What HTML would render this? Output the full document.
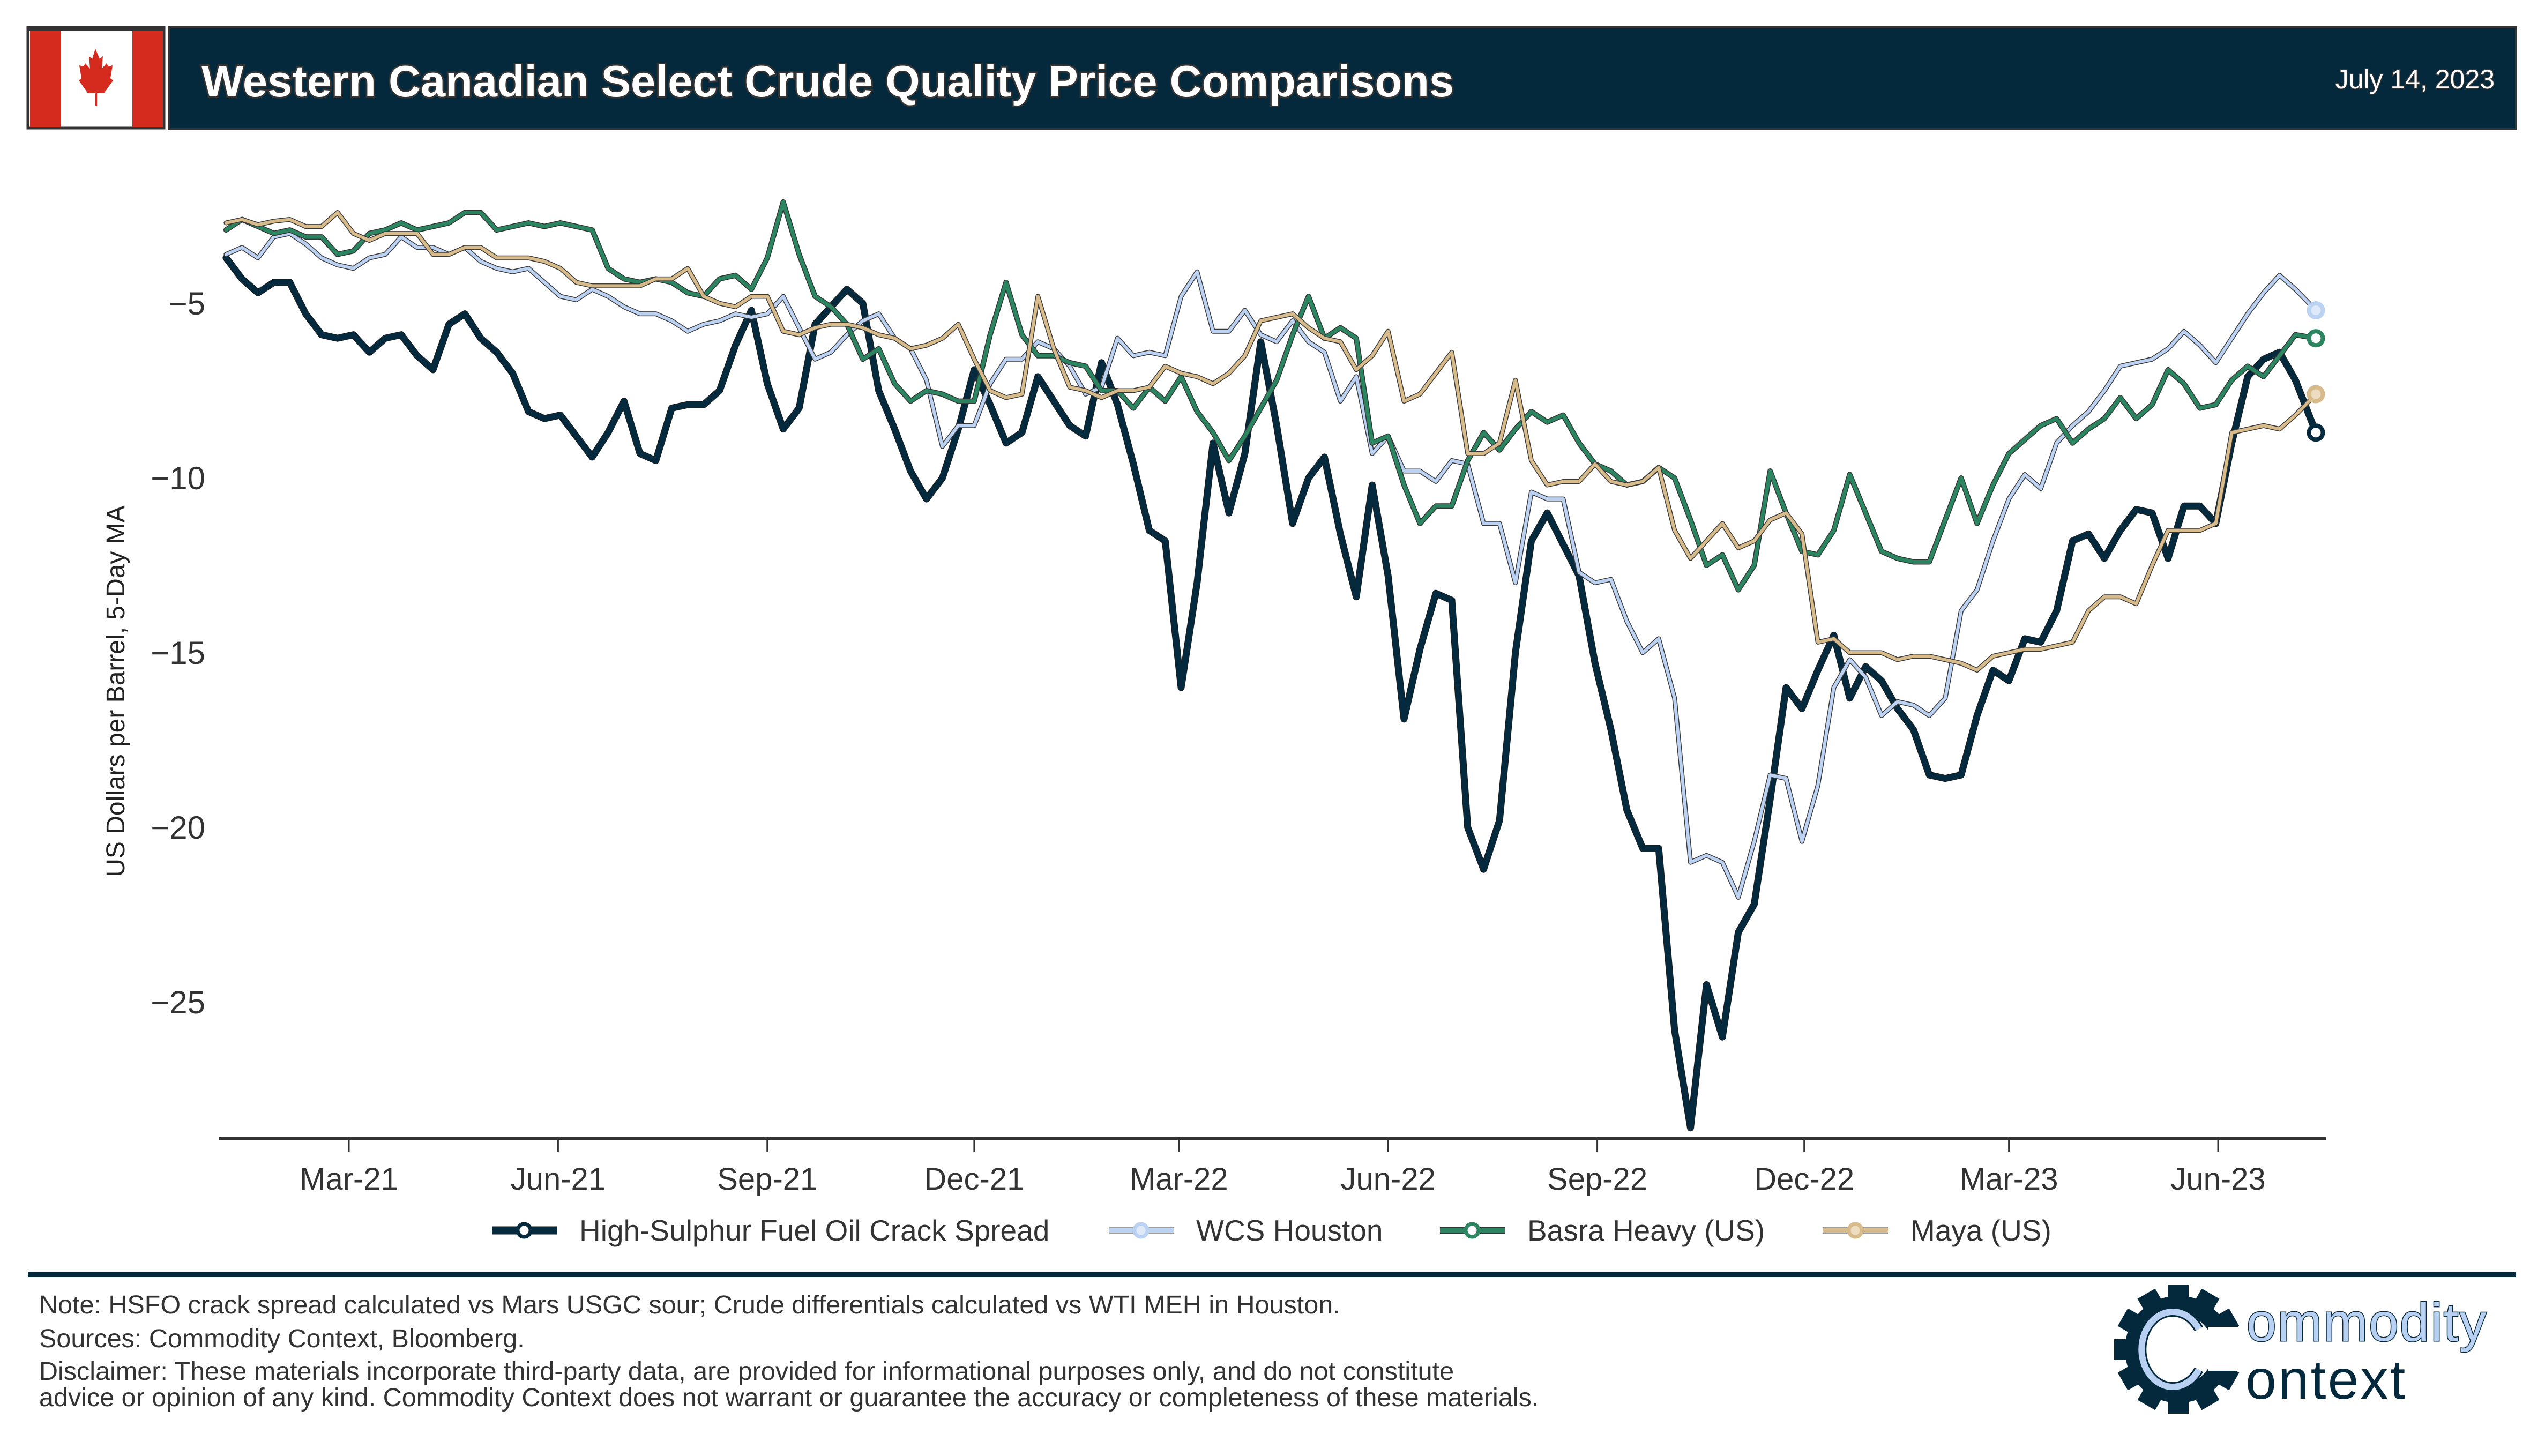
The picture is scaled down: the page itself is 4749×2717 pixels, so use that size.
<!DOCTYPE html>
<html><head><meta charset="utf-8">
<style>
html,body{margin:0;padding:0;background:#fff;}
body{width:4749px;height:2712px;overflow:hidden;font-family:"Liberation Sans",Arial,sans-serif;}
svg text{font-family:"Liberation Sans",Arial,sans-serif;}
</style></head>
<body>
<svg id="chart" width="4749" height="2712" viewBox="0 0 4749 2712" xmlns="http://www.w3.org/2000/svg">
  <!-- Header -->
  <g>
    <rect x="52" y="51" width="254" height="188" fill="#fff" stroke="#333" stroke-width="5"/>
    <rect x="52" y="49" width="254" height="8" fill="#333"/>
    <rect x="56" y="57" width="58" height="180" fill="#d52b1e"/>
    <rect x="247" y="57" width="57" height="180" fill="#d52b1e"/>
    <path fill="#d52b1e" d="M178,91 L186,110 L192,105 L190,128 L199,118 L202,124 L210,122 L206,146 L211,150 L194,174 L181,173 L181,198 L177,198 L177,173 L164,174 L147,150 L152,146 L148,122 L156,124 L159,118 L168,128 L166,105 L172,110 Z"/>
  </g>
  <rect x="316" y="51" width="4379" height="190" fill="#04293d" stroke="#333" stroke-width="4"/>
  <text x="376" y="180" font-size="83" font-weight="bold" fill="#fff" stroke="#333" stroke-width="6" paint-order="stroke">Western Canadian Select Crude Quality Price Comparisons</text>
  <text x="4655" y="165" font-size="50" fill="#fff" text-anchor="end" stroke="#333" stroke-width="3" paint-order="stroke">July 14, 2023</text>

  <!-- Axes -->
  <g id="yaxis"></g>
  <g id="xaxis"></g>
  <text transform="translate(232,1290) rotate(-90)" font-size="48" fill="#222" text-anchor="middle">US Dollars per Barrel, 5-Day MA</text>
  <g id="series"></g>

  <!-- Legend -->
  <g id="legend"></g>

  <!-- Footer -->
  <rect x="52" y="2373" width="4643" height="10" fill="#04293d"/>
  <g font-size="48.5" fill="#333">
    <text x="73" y="2451">Note: HSFO crack spread calculated vs Mars USGC sour; Crude differentials calculated vs WTI MEH in Houston.</text>
    <text x="73" y="2514">Sources: Commodity Context, Bloomberg.</text>
    <text x="73" y="2575">Disclaimer: These materials incorporate third-party data, are provided for informational purposes only, and do not constitute</text>
    <text x="73" y="2624">advice or opinion of any kind. Commodity Context does not warrant or guarantee the accuracy or completeness of these materials.</text>
  </g>
  <g>
    <g id="gear"></g>
    <text x="4192" y="2502" font-size="100" letter-spacing="2" fill="#b8d0f2" stroke="#04293d" stroke-width="3" paint-order="stroke">ommodity</text>
    <text x="4190" y="2610" font-size="104" letter-spacing="3" fill="#04293d">ontext</text>
  </g>
</svg>
<script>
const dates = ["2021-01-06","2021-01-13","2021-01-20","2021-01-27","2021-02-03","2021-02-10","2021-02-17","2021-02-24","2021-03-03","2021-03-10","2021-03-17","2021-03-24","2021-03-31","2021-04-07","2021-04-14","2021-04-21","2021-04-28","2021-05-05","2021-05-12","2021-05-19","2021-05-26","2021-06-02","2021-06-09","2021-06-16","2021-06-23","2021-06-30","2021-07-07","2021-07-14","2021-07-21","2021-07-28","2021-08-04","2021-08-11","2021-08-18","2021-08-25","2021-09-01","2021-09-08","2021-09-15","2021-09-22","2021-09-29","2021-10-06","2021-10-13","2021-10-20","2021-10-27","2021-11-03","2021-11-10","2021-11-17","2021-11-24","2021-12-01","2021-12-08","2021-12-15","2021-12-22","2021-12-29","2022-01-05","2022-01-12","2022-01-19","2022-01-26","2022-02-02","2022-02-09","2022-02-16","2022-02-23","2022-03-02","2022-03-09","2022-03-16","2022-03-23","2022-03-30","2022-04-06","2022-04-13","2022-04-20","2022-04-27","2022-05-04","2022-05-11","2022-05-18","2022-05-25","2022-06-01","2022-06-08","2022-06-15","2022-06-22","2022-06-29","2022-07-06","2022-07-13","2022-07-20","2022-07-27","2022-08-03","2022-08-10","2022-08-17","2022-08-24","2022-08-31","2022-09-07","2022-09-14","2022-09-21","2022-09-28","2022-10-05","2022-10-12","2022-10-19","2022-10-26","2022-11-02","2022-11-09","2022-11-16","2022-11-23","2022-11-30","2022-12-07","2022-12-14","2022-12-21","2022-12-28","2023-01-04","2023-01-11","2023-01-18","2023-01-25","2023-02-01","2023-02-08","2023-02-15","2023-02-22","2023-03-01","2023-03-08","2023-03-15","2023-03-22","2023-03-29","2023-04-05","2023-04-12","2023-04-19","2023-04-26","2023-05-03","2023-05-10","2023-05-17","2023-05-24","2023-05-31","2023-06-07","2023-06-14","2023-06-21","2023-06-28","2023-07-05","2023-07-14"];

const hsfo = [-3.7,-4.3,-4.7,-4.4,-4.4,-5.3,-5.9,-6.0,-5.9,-6.4,-6.0,-5.9,-6.5,-6.9,-5.6,-5.3,-6.0,-6.4,-7.0,-8.1,-8.3,-8.2,-8.8,-9.4,-8.7,-7.8,-9.3,-9.5,-8.0,-7.9,-7.9,-7.5,-6.2,-5.2,-7.3,-8.6,-8.0,-5.6,-5.1,-4.6,-5.0,-7.5,-8.6,-9.8,-10.6,-10.0,-8.6,-6.9,-7.9,-9.0,
-8.7,-7.1,-7.8,-8.5,-8.8,-6.7,-7.9,-9.6,-11.5,-11.8,-16.0,-13.0,-9.0,-11.0,-9.3,-6.1,-8.5,-11.3,-10.0,-9.4,-11.6,-13.4,-10.2,-12.8,-16.9,-14.9,-13.3,-13.5,-20.0,-21.2,-19.8,-15.0,-11.8,-11.0,-11.9,-12.8,-15.3,-17.2,-19.5,-20.6,-20.6,-25.8,-28.6,-24.5,-26.0,-23.0,-22.2,-19.2,-16.0,-16.6,
-15.5,-14.5,-16.3,-15.4,-15.8,-16.6,-17.2,-18.5,-18.6,-18.5,-16.8,-15.5,-15.8,-14.6,-14.7,-13.8,-11.8,-11.6,-12.3,-11.5,-10.9,-11.0,-12.3,-10.8,-10.8,-11.3,-9.0,-7.1,-6.6,-6.4,-7.2,-8.7];

const wcs = [-3.6,-3.4,-3.7,-3.1,-3.0,-3.3,-3.7,-3.9,-4.0,-3.7,-3.6,-3.1,-3.4,-3.4,-3.6,-3.4,-3.8,-4.0,-4.1,-4.0,-4.4,-4.8,-4.9,-4.6,-4.8,-5.1,-5.3,-5.3,-5.5,-5.8,-5.6,-5.5,-5.3,-5.4,-5.3,-4.8,-5.7,-6.6,-6.4,-5.9,-5.5,-5.3,-6.0,-6.3,-7.2,-9.1,-8.5,-8.5,
-7.3,-6.6,-6.6,-6.1,-6.3,-6.8,-7.6,-7.4,-6.0,-6.5,-6.4,-6.5,-4.8,-4.1,-5.8,-5.8,-5.2,-5.9,-6.1,-5.5,-6.1,-6.4,-7.8,-7.1,-9.3,-8.8,-9.8,-9.8,-10.1,-9.5,-9.6,-11.3,-11.3,-13.0,-10.4,-10.6,-10.6,-12.7,-13.0,-12.9,-14.1,-15.0,-14.6,-16.3,-21.0,-20.8,-21.0,-22.0,
-20.4,-18.5,-18.6,-20.4,-18.8,-16.0,-15.2,-15.7,-16.8,-16.4,-16.5,-16.8,-16.3,-13.8,-13.2,-11.8,-10.6,-9.9,-10.3,-9.0,-8.5,-8.1,-7.5,-6.8,-6.7,-6.6,-6.3,-5.8,-6.2,-6.7,-6.0,-5.3,-4.7,-4.2,-4.6,-5.2];

const basra = [-2.9,-2.6,-2.8,-3.0,-2.9,-3.1,-3.1,-3.6,-3.5,-3.0,-2.9,-2.7,-2.9,-2.8,-2.7,-2.4,-2.4,-2.9,-2.8,-2.7,-2.8,-2.7,-2.8,-2.9,-4.0,-4.3,-4.4,-4.3,-4.4,-4.7,-4.8,-4.3,-4.2,-4.6,-3.7,-2.1,-3.6,-4.8,-5.1,-5.6,-6.6,-6.3,-7.3,-7.8,-7.5,-7.6,-7.8,-7.8,
-5.9,-4.4,-5.9,-6.5,-6.5,-6.7,-6.8,-7.5,-7.5,-8.0,-7.4,-7.8,-7.1,-8.1,-8.7,-9.5,-8.8,-8.0,-7.2,-5.9,-4.8,-6.0,-5.7,-6.0,-9.0,-8.8,-10.2,-11.3,-10.8,-10.8,-9.5,-8.7,-9.2,-8.6,-8.1,-8.4,-8.2,-9.0,-9.6,-9.8,-10.2,-10.1,-9.7,-10.0,-11.2,-12.5,-12.2,-13.2,-12.5,-9.8,-11.0,-12.1,
-12.2,-11.5,-9.9,-11.0,-12.1,-12.3,-12.4,-12.4,-11.2,-10.0,-11.3,-10.2,-9.3,-8.9,-8.5,-8.3,-9.0,-8.6,-8.3,-7.7,-8.3,-7.9,-6.9,-7.3,-8.0,-7.9,-7.2,-6.8,-7.1,-6.5,-5.9,-6.0];

const maya = [-2.7,-2.6,-2.75,-2.65,-2.6,-2.8,-2.8,-2.4,-3.0,-3.2,-3.0,-3.0,-3.0,-3.6,-3.6,-3.4,-3.4,-3.7,-3.7,-3.7,-3.8,-4.0,-4.4,-4.5,-4.5,-4.5,-4.5,-4.3,-4.3,-4.0,-4.8,-5.0,-5.1,-4.8,-4.8,-5.8,-5.9,-5.7,-5.6,-5.6,-5.7,-5.9,-6.0,-6.3,-6.2,-6.0,-5.6,-6.6,
-7.5,-7.7,-7.6,-4.8,-6.3,-7.4,-7.5,-7.7,-7.5,-7.5,-7.4,-6.8,-7.0,-7.1,-7.3,-7.0,-6.5,-5.5,-5.4,-5.3,-5.7,-6.0,-6.1,-6.9,-6.5,-5.8,-7.8,-7.6,-7.0,-6.4,-9.3,-9.3,-9.0,-7.2,-9.5,-10.2,-10.1,-10.1,-9.6,-10.1,-10.2,-10.1,-9.7,-11.5,-12.3,-11.8,-11.3,-12.0,-11.8,-11.2,-11.0,-11.6,
-14.7,-14.6,-15.0,-15.0,-15.0,-15.2,-15.1,-15.1,-15.2,-15.3,-15.5,-15.1,-15.0,-14.9,-14.9,-14.8,-14.7,-13.8,-13.4,-13.4,-13.6,-12.5,-11.5,-11.5,-11.5,-11.3,-8.7,-8.6,-8.5,-8.6,-8.2,-7.6];

const seriesNames = ["High-Sulphur Fuel Oil Crack Spread","WCS Houston","Basra Heavy (US)","Maya (US)"];
const yTickValues = [-5,-10,-15,-20,-25];
const yTickLabels = ["\u22125","\u221210","\u221215","\u221220","\u221225"];
const xTickDates = ["2021-03-01","2021-06-01","2021-09-01","2021-12-01","2022-03-01","2022-06-01","2022-09-01","2022-12-01","2023-03-01","2023-06-01"];
const xTickLabels = ["Mar-21","Jun-21","Sep-21","Dec-21","Mar-22","Jun-22","Sep-22","Dec-22","Mar-23","Jun-23"];

const NS = "http://www.w3.org/2000/svg";
const ORIGIN = Date.UTC(2021,2,1);
function xScale(d){ const p=d.split("-"); const t=Date.UTC(+p[0],+p[1]-1,+p[2]); return 651 + (t-ORIGIN)/86400000*4.2433; }
function yScale(v){ return 566 - (v+5)*65.2; }
function mk(tag, attrs, parent){ const e=document.createElementNS(NS,tag); for(const k in attrs) e.setAttribute(k,attrs[k]); parent.appendChild(e); return e; }

const yg=document.getElementById("yaxis");
yTickValues.forEach((v,i)=>{
  const t=mk("text",{x:383,y:yScale(v)+21,"font-size":60,fill:"#333","text-anchor":"end"},yg);
  
  
  t.textContent=yTickLabels[i];
});
const xg=document.getElementById("xaxis");
const axisLine=mk("line",{x1:409,x2:4340,y1:2124,y2:2124,stroke:"#333","stroke-width":6},xg);


xTickDates.forEach((d,i)=>{
  const x=xScale(d);
  const tk=mk("line",{x1:x,x2:x,y1:2124,y2:2150,stroke:"#333","stroke-width":3},xg);
  
  
  const t=mk("text",{x:x,y:2220,"font-size":58,fill:"#333","text-anchor":"middle"},xg);
  
  
  t.textContent=xTickLabels[i];
});

const styles=[
  {color:"#062a3d", w:11, edge:"#1a1a1a", ew:13, fillEnd:"#ffffff", key:"hsfo"},
  {color:"#bcd2f3", w:6, edge:"#3a3a3a", ew:9, fillEnd:"#dfe9f8", key:"wcs"},
  {color:"#2b8560", w:7, edge:"#333", ew:10, fillEnd:"#ffffff", key:"basra"},
  {color:"#d8bb8a", w:6, edge:"#3a3a3a", ew:9, fillEnd:"#ecdcc0", key:"maya"}
];
const allValues=[hsfo,wcs,basra,maya];
const sg=document.getElementById("series");
allValues.forEach((vals,si)=>{
  const st=styles[si];
  const pts=vals.map((v,i)=>xScale(dates[i]).toFixed(1)+","+yScale(v).toFixed(1)).join(" ");
  const g=mk("g",{},sg);
  
  
  const e=mk("polyline",{points:pts,fill:"none",stroke:st.edge,"stroke-width":st.ew,"stroke-linejoin":"round","stroke-linecap":"round"},g);
  
  
  const l=mk("polyline",{points:pts,fill:"none",stroke:st.color,"stroke-width":st.w,"stroke-linejoin":"round","stroke-linecap":"round"},g);
  
  
  const n=vals.length-1;
  const c=mk("circle",{cx:xScale(dates[n]),cy:yScale(vals[n]),r:13,fill:st.fillEnd,stroke:st.color,"stroke-width":8},g);
  
  
});

const lg=document.getElementById("legend");
const legendX=[918,2069,2687,3402];
seriesNames.forEach((name,i)=>{
  const st=styles[i];
  const g=mk("g",{},lg);
  
  
  const x=legendX[i], y=2296;
  mk("line",{x1:x,x2:x+121,y1:y,y2:y,stroke:st.edge,"stroke-width":st.ew+2},g);
  mk("line",{x1:x,x2:x+121,y1:y,y2:y,stroke:st.color,"stroke-width":st.w+2},g);
  mk("circle",{cx:x+60,cy:y,r:12,fill:st.fillEnd,stroke:st.color,"stroke-width":7},g);
  const t=mk("text",{x:x+163,y:y+19,"font-size":55,fill:"#333"},g);
  
  
  t.textContent=name;
});

const gg=document.getElementById("gear");
const cx=4065, cy=2518;
for(let k=0;k<12;k++){
  const a=k*30;
  const r=mk("rect",{x:cx-19,y:cy-120,width:38,height:40,fill:"#04293d",transform:`rotate(${a} ${cx} ${cy})`},gg);
  
  
}
const ring=mk("circle",{cx:cx,cy:cy,r:83,fill:"none",stroke:"#04293d","stroke-width":34},gg);


const gap=mk("rect",{x:cx+55,y:cy-42,width:80,height:82,fill:"#fff"},gg);


const cArc=mk("path",{d:`M${cx+38},${cy-38} A58,70 0 1 0 ${cx+38},${cy+38}`,fill:"none",stroke:"#04293d","stroke-width":18},gg);


const cArc2=mk("path",{d:`M${cx+38},${cy-38} A58,70 0 1 0 ${cx+38},${cy+38}`,fill:"none",stroke:"#b8d0f2","stroke-width":12},gg);


</script>
</body></html>
